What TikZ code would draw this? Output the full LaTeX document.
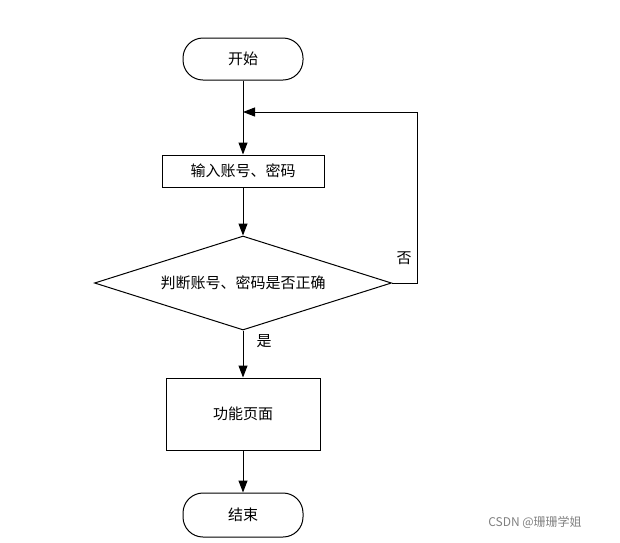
\documentclass[tikz,border=0pt]{standalone}
\usepackage{fontspec}
\setmainfont{Noto Sans CJK SC}
\usetikzlibrary{shapes.geometric,arrows.meta}
\begin{document}
\begin{tikzpicture}[x=1pt,y=-1pt,line width=1pt,
  term/.style={draw,rounded corners=20pt,minimum width=120pt,minimum height=42pt,font=\fontsize{15}{17}\selectfont},
  box/.style={draw,font=\fontsize{15}{17}\selectfont},
  arr/.style={-{Triangle[length=12pt,width=9pt]}},
  lbl/.style={font=\fontsize{15}{17}\selectfont}]
\useasboundingbox (0,0) rectangle (620,542);
\node[term] (start) at (243,59) {开始};
\node[box,minimum width=162pt,minimum height=32pt] (input) at (243,171) {输入账号、密码};
\node[draw,diamond,aspect=3.16,minimum width=297pt,minimum height=94pt,inner sep=0pt,font=\fontsize{15}{17}\selectfont] (dec) at (243,283) {判断账号、密码是否正确};
\node[box,minimum width=154pt,minimum height=72pt] (func) at (243,414) {功能页面};
\node[term,minimum height=44pt] (end) at (243,515) {结束};
\coordinate (m) at (243,112);
\coordinate (r1) at (417,283);
\coordinate (r2) at (417,112);
\draw (start.south) -- (m);
\draw[arr] (m) -- (input.north);
\draw[arr] (input.south) -- (dec.north);
\draw[arr] (dec.east) -- (r1) -- (r2) -- (m);
\draw[arr] (dec.south) -- (func.north);
\draw[arr] (func.south) -- (end.north);
\node[lbl] (no) at (404,258) {否};
\node[lbl] (yes) at (264,341) {是};
\node[font=\fontsize{12}{14}\selectfont,text=gray] (wm) at (535,522) {CSDN @珊珊学姐};
\end{tikzpicture}
\end{document}
